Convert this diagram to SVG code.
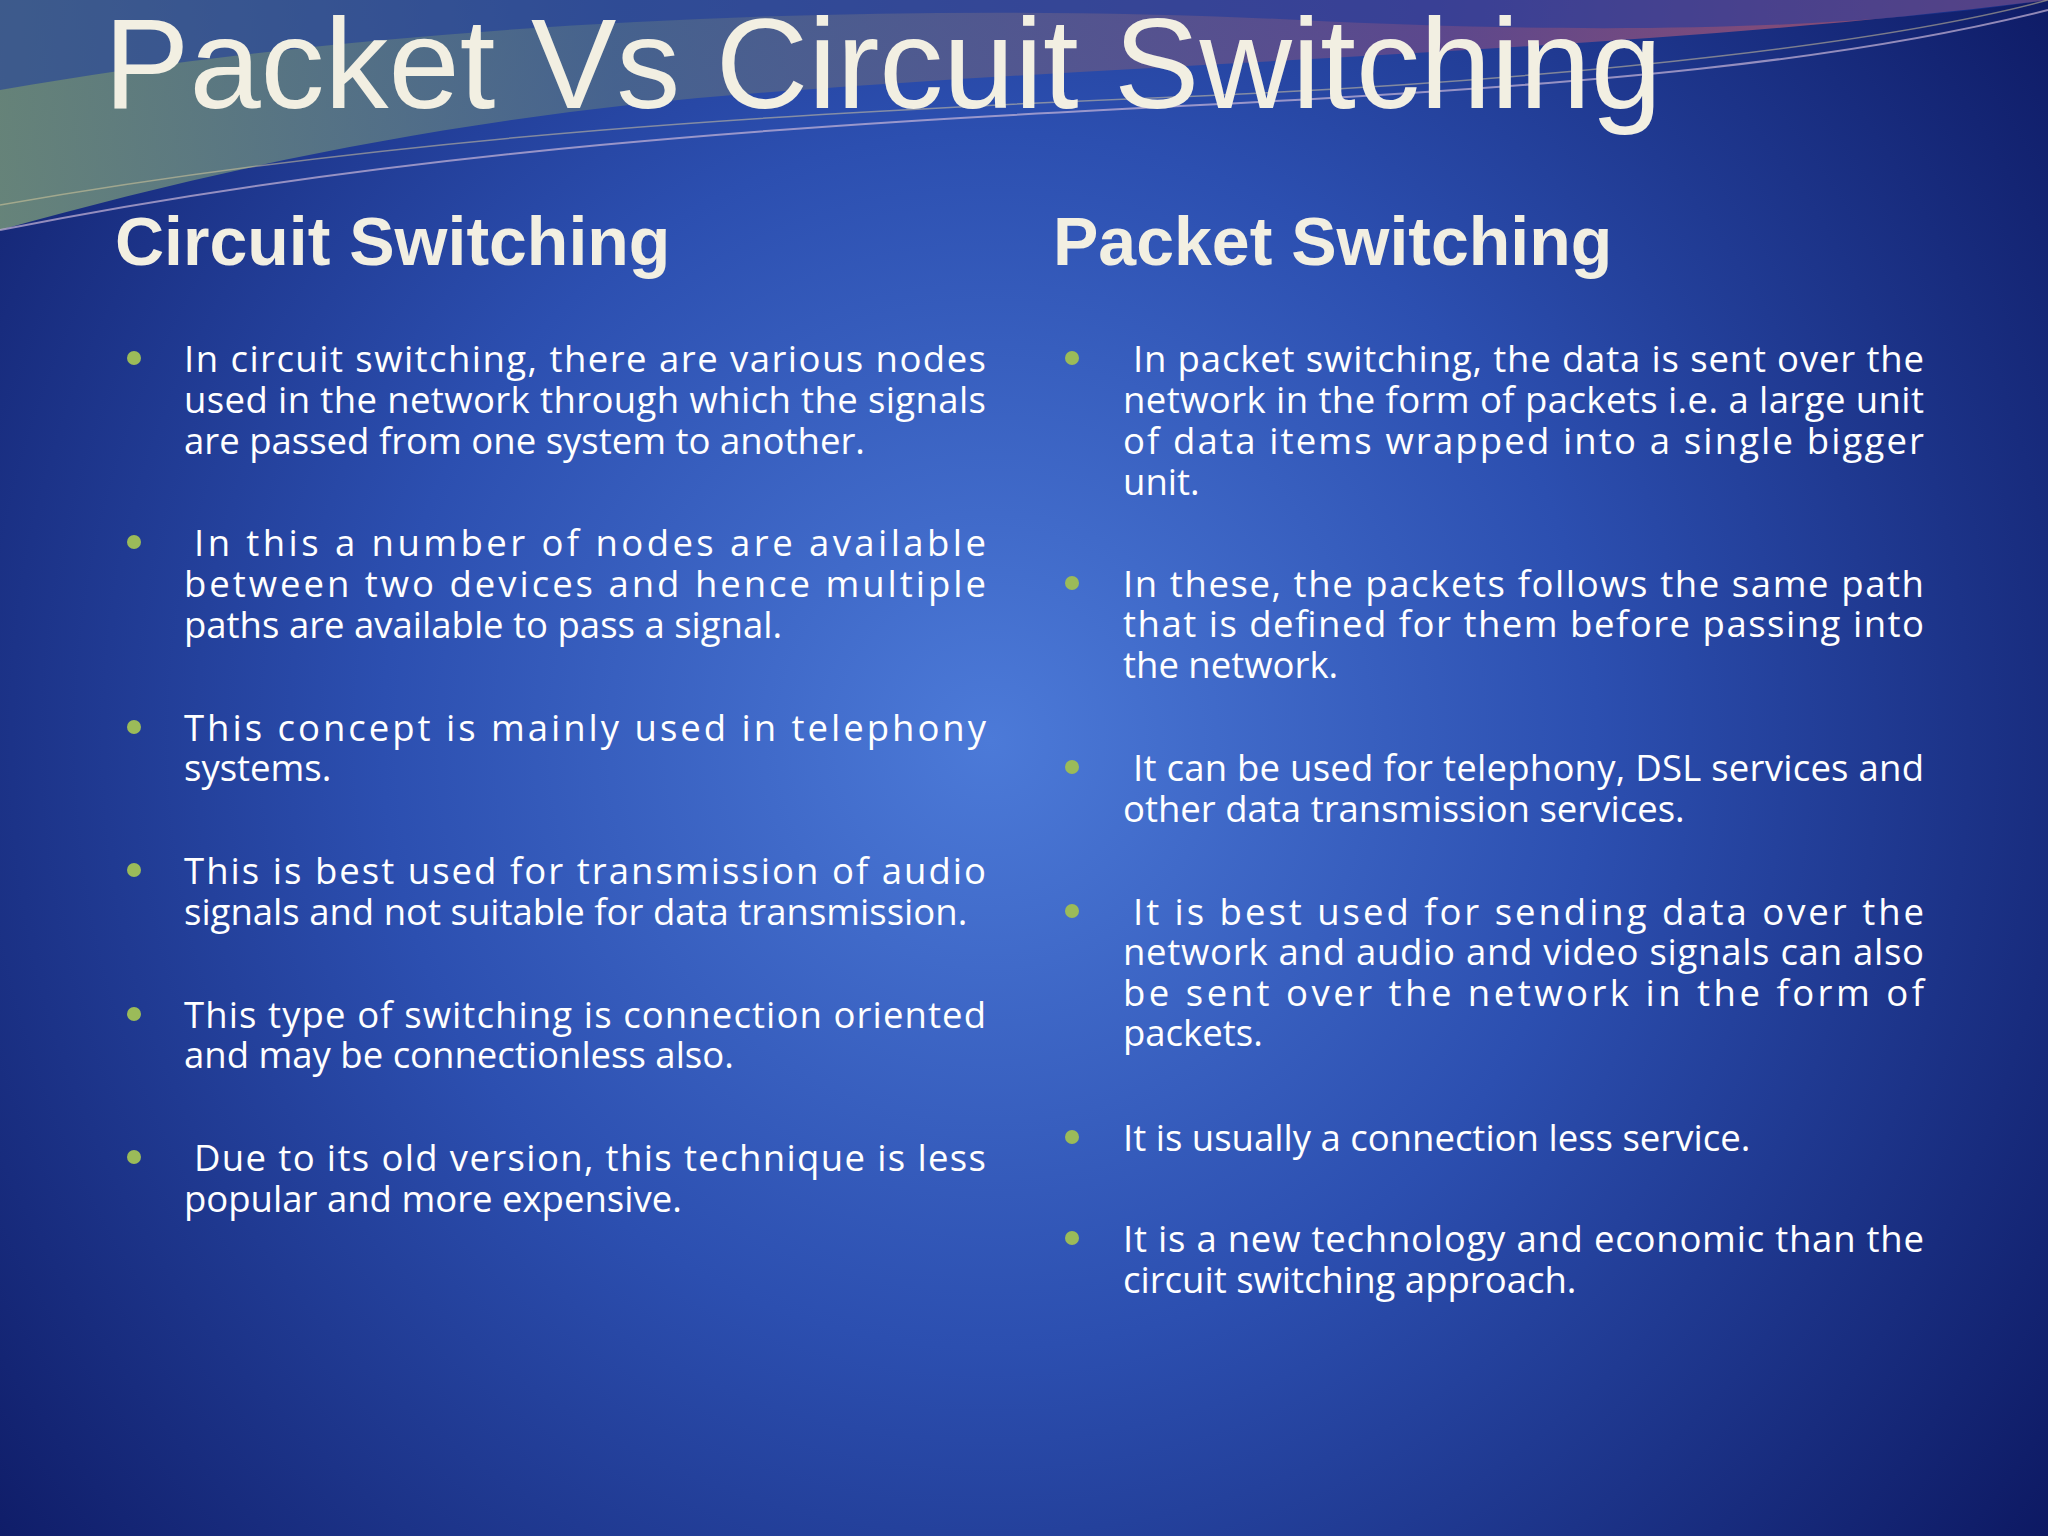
<svg xmlns="http://www.w3.org/2000/svg" width="2048" height="1536" viewBox="0 0 2048 1536">
<defs>
<radialGradient id="bg" cx="990" cy="740" r="1350" gradientUnits="userSpaceOnUse">
<stop offset="0" stop-color="#4c7ad8"/>
<stop offset="0.45" stop-color="#2c4fb0"/>
<stop offset="1" stop-color="#0c1760"/>
</radialGradient>
<linearGradient id="wave" x1="0" y1="0" x2="2048" y2="0" gradientUnits="userSpaceOnUse">
<stop offset="0" stop-color="#7a9a7a"/>
<stop offset="0.3" stop-color="#4e6a8a"/>
<stop offset="0.7" stop-color="#6a4a8a"/>
<stop offset="1" stop-color="#c05a6a"/>
</linearGradient>
<style>
.t{font-family:"Open Sans","Liberation Sans",sans-serif;font-size:36.5px;fill:#ffffff}
.h{font-family:"Liberation Sans",Arial,sans-serif;font-weight:bold;font-size:68px;fill:#f2efe2}
.b{fill:#9bbb59}
</style>
</defs>
<rect width="2048" height="1536" fill="url(#bg)"/>
<g id="wave-deco">
<path d="M0,230 C250,160 500,110 800,90 C1200,60 1650,50 2048,0 L0,0 Z" fill="url(#wave)" opacity="0.8"/>
<path d="M0,90 C400,20 900,0 1300,20 C1600,35 1850,30 2048,0 L2048,0 L0,0 Z" fill="#1e3a9c" opacity="0.55"/>
<path d="M0,230 C400,150 800,125 1200,105 C1600,85 1850,60 2048,10" fill="none" stroke="#c9b7d8" stroke-width="2" opacity="0.7"/>
<path d="M0,205 C400,135 800,112 1200,96 C1600,78 1900,40 2048,0" fill="none" stroke="#e0d0a0" stroke-width="1.5" opacity="0.5"/>
</g>
<text id="title" x="104" y="108" font-family="Liberation Sans,Arial,sans-serif" font-size="128" fill="#f2efe2">Packet Vs Circuit Switching</text>
<g id="circuit">
<text class="h" x="115" y="265">Circuit Switching</text>
<circle class="b" cx="134" cy="358" r="7"/>
<text class="t" x="184" y="372" textLength="802" lengthAdjust="spacing">In circuit switching, there are various nodes</text>
<text class="t" x="184" y="413" textLength="802" lengthAdjust="spacing">used in the network through which the signals</text>
<text class="t" x="184" y="454">are passed from one system to another.</text>
<circle class="b" cx="134" cy="542" r="7"/>
<text class="t" x="194" y="556" textLength="792" lengthAdjust="spacing">In this a number of nodes are available</text>
<text class="t" x="184" y="597" textLength="802" lengthAdjust="spacing">between two devices and hence multiple</text>
<text class="t" x="184" y="638">paths are available to pass a signal.</text>
<circle class="b" cx="134" cy="727" r="7"/>
<text class="t" x="184" y="741" textLength="802" lengthAdjust="spacing">This concept is mainly used in telephony</text>
<text class="t" x="184" y="781">systems.</text>
<circle class="b" cx="134" cy="870" r="7"/>
<text class="t" x="184" y="884" textLength="802" lengthAdjust="spacing">This is best used for transmission of audio</text>
<text class="t" x="184" y="925">signals and not suitable for data transmission.</text>
<circle class="b" cx="134" cy="1014" r="7"/>
<text class="t" x="184" y="1028" textLength="802" lengthAdjust="spacing">This type of switching is connection oriented</text>
<text class="t" x="184" y="1068">and may be connectionless also.</text>
<circle class="b" cx="134" cy="1157" r="7"/>
<text class="t" x="194" y="1171" textLength="792" lengthAdjust="spacing">Due to its old version, this technique is less</text>
<text class="t" x="184" y="1212">popular and more expensive.</text>
</g>
<g id="packet">
<text class="h" x="1053" y="265">Packet Switching</text>
<circle class="b" cx="1072" cy="358" r="7"/>
<text class="t" x="1133" y="372" textLength="791" lengthAdjust="spacing">In packet switching, the data is sent over the</text>
<text class="t" x="1123" y="413" textLength="801" lengthAdjust="spacing">network in the form of packets i.e. a large unit</text>
<text class="t" x="1123" y="454" textLength="801" lengthAdjust="spacing">of data items wrapped into a single bigger</text>
<text class="t" x="1123" y="495">unit.</text>
<circle class="b" cx="1072" cy="583" r="7"/>
<text class="t" x="1123" y="597" textLength="801" lengthAdjust="spacing">In these, the packets follows the same path</text>
<text class="t" x="1123" y="637" textLength="801" lengthAdjust="spacing">that is defined for them before passing into</text>
<text class="t" x="1123" y="678">the network.</text>
<circle class="b" cx="1072" cy="767" r="7"/>
<text class="t" x="1133" y="781" textLength="791" lengthAdjust="spacing">It can be used for telephony, DSL services and</text>
<text class="t" x="1123" y="822">other data transmission services.</text>
<circle class="b" cx="1072" cy="911" r="7"/>
<text class="t" x="1133" y="925" textLength="791" lengthAdjust="spacing">It is best used for sending data over the</text>
<text class="t" x="1123" y="965" textLength="801" lengthAdjust="spacing">network and audio and video signals can also</text>
<text class="t" x="1123" y="1006" textLength="801" lengthAdjust="spacing">be sent over the network in the form of</text>
<text class="t" x="1123" y="1046">packets.</text>
<circle class="b" cx="1072" cy="1137" r="7"/>
<text class="t" x="1123" y="1151">It is usually a connection less service.</text>
<circle class="b" cx="1072" cy="1238" r="7"/>
<text class="t" x="1123" y="1252" textLength="801" lengthAdjust="spacing">It is a new technology and economic than the</text>
<text class="t" x="1123" y="1293">circuit switching approach.</text>
</g>
</svg>
